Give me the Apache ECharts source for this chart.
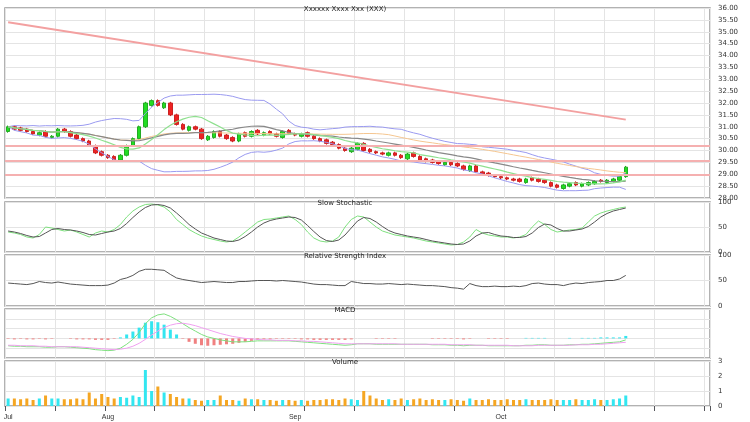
<!DOCTYPE html>
<html><head><meta charset="utf-8">
<script src="https://cdn.jsdelivr.net/npm/echarts@6/dist/echarts.min.js"></script>
<style>html,body{margin:0;padding:0;background:#fff}#chart{width:750px;height:422px}</style>
</head><body><div id="chart"></div>
<script>
var opens = [30.8,31.0,30.95,30.9,30.8,30.65,30.8,30.55,30.6,30.9,
  30.8,30.65,30.5,30.4,30.2,29.95,29.8,29.75,29.6,29.8,
  30.2,30.5,31.0,31.9,32.1,31.8,32.0,31.5,31.1,30.85,
  31.0,30.9,30.45,30.55,30.8,30.65,30.55,30.4,30.75,30.6,
  30.85,30.65,30.8,30.7,30.55,30.85,30.7,30.6,30.75,30.6,
  30.5,30.45,30.35,30.25,30.1,29.95,30.05,30.3,30.05,29.95,
  29.9,29.8,29.9,29.8,29.65,29.9,29.75,29.65,29.6,29.55,
  29.4,29.5,29.45,29.35,29.15,29.35,29.1,29.05,28.95,28.9,
  28.85,28.8,28.8,28.65,28.85,28.8,28.75,28.65,28.55,28.4,
  28.5,28.65,28.5,28.55,28.6,28.75,28.65,28.7,28.75,28.9];
var closes = [31.0,30.9,30.85,30.8,30.7,30.75,30.6,30.6,30.9,30.8,
  30.6,30.5,30.4,30.2,29.9,29.8,29.7,29.6,29.8,30.2,
  30.5,31.0,32.0,32.1,31.9,32.0,31.5,31.1,30.9,31.0,
  30.9,30.5,30.6,30.8,30.6,30.5,30.4,30.7,30.6,30.8,
  30.7,30.75,30.7,30.6,30.8,30.7,30.65,30.7,30.6,30.5,
  30.4,30.3,30.25,30.1,30.0,30.1,30.3,30.0,29.95,29.9,
  29.85,29.9,29.8,29.7,29.85,29.75,29.6,29.55,29.5,29.45,
  29.5,29.4,29.35,29.2,29.35,29.1,29.0,28.95,28.9,28.85,
  28.8,28.75,28.7,28.8,28.75,28.7,28.65,28.5,28.45,28.55,
  28.6,28.55,28.6,28.65,28.7,28.7,28.75,28.8,28.9,29.3];
var stochK = [40,38,35,30,28,35,50,48,45,42,44,40,35,30,38,42,40,45,55,70,
  82,90,95,96,94,90,80,65,55,45,38,32,28,25,22,20,22,30,40,50,
  60,65,66,68,70,72,65,55,40,28,22,20,22,30,50,65,72,70,60,50,
  42,38,34,32,30,28,25,22,20,18,16,14,15,20,30,45,38,34,32,30,
  30,28,30,35,50,62,55,45,40,42,44,45,48,60,72,78,82,85,88,90];
var stochD = [42,40,37,33,30,31,38,45,47,45,44,42,39,35,34,37,40,42,47,57,
  69,80,89,94,95,93,88,78,67,55,46,38,33,28,25,22,21,24,31,40,
  50,58,63,66,68,70,69,64,53,41,30,23,21,24,34,48,62,69,67,60,
  51,43,38,35,32,30,28,25,22,20,18,16,15,16,22,32,38,39,35,32,
  31,29,29,31,38,49,56,54,47,42,42,44,46,51,60,70,77,82,85,88];
var rsi = [45,44,43,42,44,48,46,45,47,45,43,42,41,40,40,40,41,45,52,55,
  60,68,72,72,71,70,62,55,52,50,48,46,47,48,47,46,46,48,48,49,
  50,50,50,49,50,49,48,47,45,43,42,42,41,40,40,48,46,44,44,43,
  43,44,43,42,43,42,41,40,40,39,38,36,35,33,44,40,38,38,39,38,
  38,39,38,40,44,45,43,42,42,40,43,45,44,46,47,48,50,50,53,60];
var macd = [-0.15,-0.16,-0.16,-0.17,-0.17,-0.17,-0.18,-0.18,-0.17,-0.17,
  -0.18,-0.19,-0.2,-0.21,-0.23,-0.24,-0.25,-0.24,-0.2,-0.12,
  -0.02,0.12,0.3,0.42,0.48,0.5,0.45,0.38,0.3,0.22,
  0.15,0.08,0.03,0,-0.03,-0.05,-0.07,-0.07,-0.07,-0.06,
  -0.05,-0.05,-0.05,-0.05,-0.05,-0.05,-0.06,-0.07,-0.08,-0.09,
  -0.1,-0.11,-0.12,-0.13,-0.14,-0.13,-0.11,-0.11,-0.11,-0.12,
  -0.12,-0.12,-0.12,-0.12,-0.12,-0.12,-0.12,-0.12,-0.13,-0.13,
  -0.13,-0.14,-0.14,-0.15,-0.14,-0.14,-0.14,-0.15,-0.15,-0.15,
  -0.15,-0.15,-0.15,-0.14,-0.14,-0.13,-0.13,-0.14,-0.14,-0.14,
  -0.13,-0.13,-0.12,-0.12,-0.11,-0.1,-0.09,-0.08,-0.07,-0.03];
var signal = [-0.14,-0.14,-0.15,-0.15,-0.15,-0.16,-0.16,-0.17,-0.17,-0.17,
  -0.17,-0.17,-0.18,-0.19,-0.2,-0.21,-0.22,-0.23,-0.22,-0.2,
  -0.16,-0.1,-0.02,0.07,0.15,0.22,0.27,0.3,0.31,0.29,
  0.26,0.22,0.18,0.14,0.1,0.07,0.04,0.02,0,-0.01,
  -0.02,-0.03,-0.03,-0.04,-0.04,-0.04,-0.05,-0.05,-0.06,-0.06,
  -0.07,-0.08,-0.09,-0.1,-0.11,-0.11,-0.11,-0.11,-0.11,-0.11,
  -0.11,-0.11,-0.11,-0.12,-0.12,-0.12,-0.12,-0.12,-0.12,-0.12,
  -0.12,-0.13,-0.13,-0.13,-0.13,-0.14,-0.14,-0.14,-0.14,-0.14,
  -0.14,-0.15,-0.15,-0.15,-0.15,-0.14,-0.14,-0.14,-0.14,-0.14,
  -0.14,-0.13,-0.13,-0.13,-0.12,-0.12,-0.11,-0.1,-0.09,-0.08];
var volume = [.5,.5,.45,.5,.4,.5,.7,.5,.5,.45,.45,.5,.45,.9,.5,.8,.6,.5,.6,.55,
  .7,.6,2.4,1.0,1.3,.9,.8,.6,.5,.5,.4,.35,.4,.4,.7,.4,.4,.35,.5,.45,
  .45,.4,.4,.35,.4,.4,.35,.4,.35,.4,.4,.45,.45,.4,.5,.45,.4,1.0,.7,.5,
  .4,.45,.4,.5,.4,.45,.5,.4,.45,.4,.4,.45,.4,.35,.5,.4,.4,.45,.4,.4,
  .45,.4,.4,.45,.4,.4,.4,.45,.4,.4,.4,.45,.4,.4,.45,.4,.4,.45,.5,.7];
var monthTicks = {0:'Jul', 16:'Aug', 46:'Sep', 79:'Oct'};
var supportLevels = [30.2, 29.55, 29.0];
var trendLine = [[0, 35.4], [99, 31.3]];
var titles = ['Xxxxxx Xxxx Xxx (XXX)', 'Slow Stochastic', 'Relative Strength Index', 'MACD', 'Volume'];

var N = closes.length, TOTAL = 113;
var cats = [];
for (var i = 0; i < TOTAL; i++) cats.push(i);

function ma(n) {
  return closes.map(function (c, i) {
    var s = 0, k = 0;
    for (var j = Math.max(0, i - n + 1); j <= i; j++) { s += closes[j]; k++; }
    return +(s / k).toFixed(3);
  });
}
var ma10 = ma(10), ma20 = ma(20), ma40 = ma(40);
var bbUp = [], bbLo = [];
closes.forEach(function (c, i) {
  var lo = Math.max(0, i - 19), k = i - lo + 1, v = 0;
  for (var j = lo; j <= i; j++) v += Math.pow(closes[j] - ma20[i], 2);
  var sd = Math.sqrt(v / k);
  bbUp.push(+(ma20[i] + 2 * sd).toFixed(3));
  bbLo.push(+(ma20[i] - 2 * sd).toFixed(3));
});
var candles = closes.map(function (c, i) {
  return [opens[i], c, Math.min(opens[i], c) - 0.05, Math.max(opens[i], c) + 0.05];
});
var hist = macd.map(function (m, i) { return +(m - signal[i]).toFixed(3); });

var tops = [8, 202, 255, 309, 361], heights = [190, 50, 51, 49, 45];
var grids = [], xAxes = [], yAxes = [];
var lbl = {fontSize: 7, color: '#333', fontFamily: 'DejaVu Sans'};
var split = {show: true, lineStyle: {color: '#e4e4e4'}};
tops.forEach(function (t, k) {
  grids.push({left: 5, right: 40, top: t, height: heights[k], show: true, borderColor: '#999', borderWidth: 1.5});
  xAxes.push({type: 'category', gridIndex: k, data: cats, boundaryGap: true,
    axisLine: {show: false}, axisTick: {show: k == 4, interval: function (i) { return i % 8 == 0; }},
    splitLine: {show: true, interval: function (i) { return i % 8 == 0; }, lineStyle: {color: '#e4e4e4'}},
    axisLabel: {show: k == 4, fontSize: 7, color: '#333', interval: 0,
      formatter: function (v) { return monthTicks[v] || ''; }}});
});
yAxes.push({gridIndex: 0, position: 'right', min: 28, max: 36, interval: 0.5,
  axisLabel: Object.assign({formatter: function (v) { return v.toFixed(2); }}, lbl), splitLine: split, axisLine: {show: false}});
yAxes.push({gridIndex: 1, position: 'right', min: 0, max: 100, interval: 50, axisLabel: lbl, splitLine: split, axisLine: {show: false}});
yAxes.push({gridIndex: 2, position: 'right', min: 0, max: 100, interval: 50, axisLabel: lbl, splitLine: split, axisLine: {show: false}});
yAxes.push({gridIndex: 3, position: 'right', min: -0.4, max: 0.6, interval: 0.2, axisLabel: {show: false}, splitLine: split, axisLine: {show: false}});
yAxes.push({gridIndex: 4, position: 'right', min: 0, max: 3, interval: 1, axisLabel: lbl, splitLine: split, axisLine: {show: false}});

function line(data, color, xi, w) {
  return {type: 'line', data: data, xAxisIndex: xi, yAxisIndex: xi, symbol: 'none',
    lineStyle: {color: color, width: w || 1}, silent: true};
}

var chart = echarts.init(document.getElementById('chart'));
chart.setOption({
  animation: false,
  title: titles.map(function (t, k) {
    return {text: t, left: 340, top: tops[k] - 7, textAlign: 'center',
      textStyle: {fontSize: 7, fontWeight: 'normal', color: '#222', fontFamily: 'DejaVu Sans'}};
  }),
  grid: grids, xAxis: xAxes, yAxis: yAxes,
  series: [
    line(bbUp, '#9a9af0', 0), line(bbLo, '#9a9af0', 0),
    line(ma40, '#f5c690', 0), line(ma20, '#888', 0, 1.2), line(ma10, '#8fe08f', 0, 1.2),
    {type: 'line', data: trendLine, xAxisIndex: 0, yAxisIndex: 0, symbol: 'none',
      lineStyle: {color: '#f3a0a0', width: 2}, silent: true,
      markLine: {symbol: 'none', silent: true, label: {show: false},
        lineStyle: {color: '#f5b0b0', width: 2, type: 'solid'},
        data: supportLevels.map(function (v) { return {yAxis: v}; })}},
    {type: 'candlestick', data: candles, xAxisIndex: 0, yAxisIndex: 0, barWidth: 4,
      itemStyle: {color: '#22dd22', color0: '#ee2222', borderColor: '#22aa22', borderColor0: '#cc2222'}},
    line(stochK, '#7ee07e', 1), line(stochD, '#555', 1),
    line(rsi, '#555', 2),
    {type: 'bar', data: hist.map(function (h) {
      return {value: h, itemStyle: {color: h >= 0 ? '#33e6f0' : '#f08080'}};
    }), xAxisIndex: 3, yAxisIndex: 3, barWidth: 3},
    line(macd, '#7ee07e', 3), line(signal, '#f0a0f0', 3),
    {type: 'bar', data: volume.map(function (v, i) {
      return {value: v, itemStyle: {color: closes[i] >= opens[i] ? '#33e6f0' : '#f5a623'}};
    }), xAxisIndex: 4, yAxisIndex: 4, barWidth: 3}
  ]
});
</script></body></html>
